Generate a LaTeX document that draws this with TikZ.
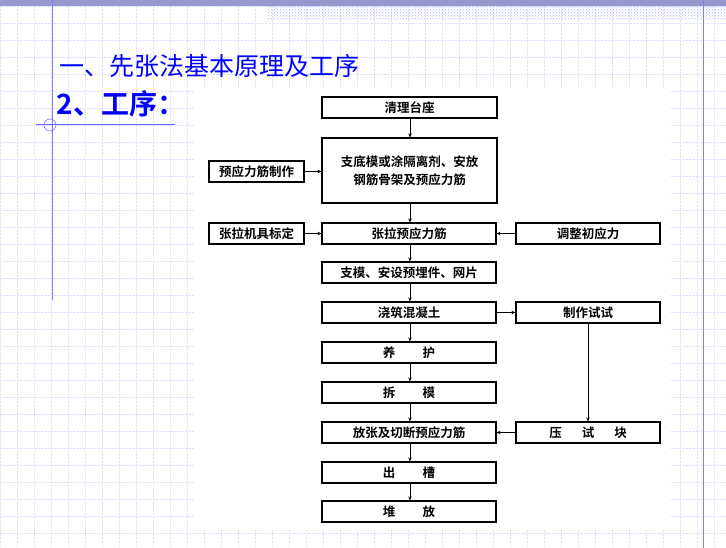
\documentclass[tikz,border=0pt]{standalone}
\usepackage{fontspec}
\newfontfamily\cjk{Noto Sans CJK SC}
\newfontfamily\cjkb{Noto Sans CJK SC Bold}
\usetikzlibrary{arrows.meta,patterns}
\tikzset{
 bx/.style={draw=black,line width=1.1pt,rectangle,inner sep=0pt,font=\cjkb\fontsize{12.5}{15}\selectfont},
 ar/.style={-{Stealth[length=4pt,width=3.5pt]},line width=0.7pt},
}
\begin{document}
\begin{tikzpicture}[x=1pt,y=-1pt]
\useasboundingbox (0,0) rectangle (726,548);
\fill[white] (0,0) rectangle (726,548);
\foreach \i in {0,17,...,726} \draw[blue!12,densely dotted,line width=0.4pt] (\i,6)--(\i,548);
\foreach \j in {6,23,...,548} \draw[blue!12,densely dotted,line width=0.4pt] (0,\j)--(726,\j);
\fill[white] (195,88) rectangle (670,530);
\fill[blue!35!gray!60] (0,0) rectangle (726,6);
\fill[pattern=crosshatch dots,pattern color=blue!30] (268,6) rectangle (726,20);
\draw[blue!50,line width=0.6pt] (703,0)--(703,548);
\draw[blue!50,line width=0.6pt] (52,0)--(52,300);
\draw[blue!60,line width=0.6pt] (36,124)--(175,124);
\draw[blue!60,line width=0.5pt] (50,125) circle (6);
\draw[blue!30,line width=1pt] (0,548)--(726,548);
\node[anchor=west,text=blue,font=\cjk\fontsize{25}{27}\selectfont] (t1) at (56,66) {一、先张法基本原理及工序};
\node[anchor=west,text=blue,font=\cjkb\fontsize{28}{30}\selectfont] (t2) at (53,104) {2、工序：};
\newcommand{\bxn}[6]{\node[bx,minimum width=#3-#2,minimum height=#5-#4,align=center] (#1) at ({(#2+#3)/2},{(#4+#5)/2}) {#6};}
\bxn{a}{322}{497}{97}{118}{清理台座}
\bxn{b}{322}{497}{138}{203}{支底模或涂隔离剂、安放\\[3pt]钢筋骨架及预应力筋}
\bxn{p}{209}{304}{161}{182}{预应力筋制作}
\bxn{q}{209}{304}{223}{244}{张拉机具标定}
\bxn{c}{322}{496}{223}{244}{张拉预应力筋}
\bxn{r}{516}{660}{223}{244}{调整初应力}
\bxn{d}{322}{496}{262}{283}{支模、安设预埋件、网片}
\bxn{e}{322}{496}{302}{323}{浇筑混凝土}
\bxn{s}{516}{660}{302}{323}{制作试试}
\bxn{f}{322}{496}{342}{363}{养\hspace{2.2em}护}
\bxn{g}{322}{496}{382}{403}{拆\hspace{2.2em}模}
\bxn{h}{322}{496}{422}{443}{放张及切断预应力筋}
\bxn{t}{516}{660}{422}{443}{压\hspace{1.6em}试\hspace{1.6em}块}
\bxn{i}{322}{496}{462}{483}{出\hspace{2.2em}槽}
\bxn{j}{322}{496}{501}{522}{堆\hspace{2.2em}放}
\foreach \u/\v in {a/b,b/c,c/d,d/e,e/f,f/g,g/h,h/i,i/j} \draw[ar] (\u.south -| 410,0) -- (\v.north -| 410,0);
\draw[ar] (p.east) -- (b.west |- p.east);
\draw[ar] (q) -- (c);
\draw[ar] (r) -- (c);
\draw[ar] (e) -- (s);
\draw[ar] (s.south -| 588,0) -- (t.north -| 588,0);
\draw[ar] (t) -- (h);
\end{tikzpicture}
\end{document}
